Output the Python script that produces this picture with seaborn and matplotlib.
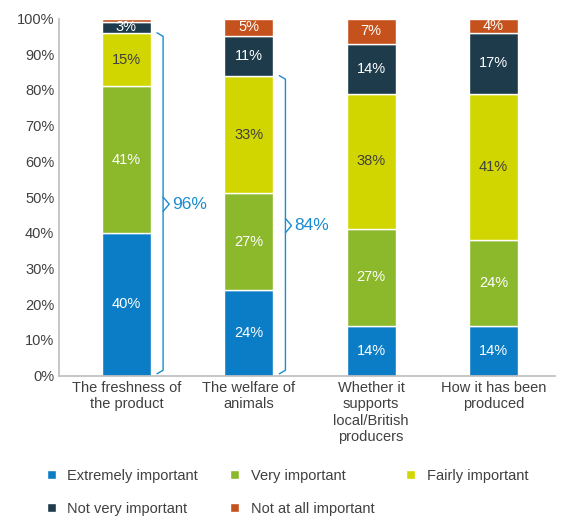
import matplotlib
matplotlib.use("Agg")
import matplotlib.pyplot as plt
import seaborn as sns
import pandas as pd
import numpy as np

categories = ["The freshness of\nthe product", "The welfare of\nanimals", "Whether it\nsupports\nlocal/British\nproducers", "How it has been\nproduced"]
series = ["Extremely important", "Very important", "Fairly important", "Not very important", "Not at all important"]
extremely = [40, 24, 14, 14]
very = [41, 27, 27, 24]
fairly = [15, 33, 38, 41]
notvery = [3, 11, 14, 17]
notatall = [1, 5, 7, 4]
labels_shown = [[True]*4, [True]*4, [True]*4, [True]*4, [False, True, True, True]]
brackets = [96, 84]
colors = ["#0b7cc6", "#8cb82b", "#d2d600", "#1d3b4a", "#c5521c"]
txtcol = ["white", "white", "#404040", "white", "white"]

sns.set_theme(style="white")
plt.rcParams['font.family'] = ['Liberation Sans', 'DejaVu Sans']
fig = plt.figure(figsize=(5.63, 5.29), dpi=100)
ax = fig.add_axes([0.105, 0.29, 0.88, 0.675])

vals = [extremely, very, fairly, notvery, notatall]
x = np.arange(len(categories))
bottom = np.zeros(len(categories))
handles = []
for i, (s, v) in enumerate(zip(series, vals)):
    h = ax.bar(x, v, bottom=bottom, width=0.4, color=colors[i], label=s)
    handles.append(h)
    for j in range(len(categories)):
        if labels_shown[i][j]:
            ax.text(x[j], bottom[j] + v[j]/2, f"{v[j]}%", ha="center", va="center",
                    color=txtcol[i], fontsize=10.5)
    bottom += np.array(v)

for j, b in enumerate(brackets):
    xb = x[j] + 0.25
    ax.plot([xb, xb+0.05, xb+0.05, xb], [0.5, 1.5, b-1, b], color="#1a8ccf", lw=1, clip_on=False)
    ax.plot([xb+0.05, xb+0.1, xb+0.05], [b/2-2, b/2, b/2+2], color="#1a8ccf", lw=1)
    ax.text(xb+0.12, b/2, f"{b}%", color="#1a8ccf", fontsize=12.5, va="center", ha="left")

ax.set_xlim(-0.55, 3.5)
ax.set_ylim(0, 100)
ax.set_yticks(range(0, 101, 10))
ax.set_yticklabels([f"{t}%" for t in range(0, 101, 10)], fontsize=10.5, color="#404040")
ax.set_xticks(x)
ax.set_xticklabels(categories, fontsize=10.5, color="#404040", va="top")
ax.tick_params(axis="x", length=0, pad=4)
ax.tick_params(axis="y", length=0)
for sp in ["top", "right"]:
    ax.spines[sp].set_visible(False)
ax.spines["left"].set_color("#bfbfbf")
ax.spines["bottom"].set_color("#bfbfbf")

order = [0, 3, 1, 4, 2]
fig.legend([handles[k] for k in order], [series[k] for k in order],
           loc="lower left", bbox_to_anchor=(0.06, 0.0), ncol=3, frameon=False,
           fontsize=10.5, handlelength=0.6, handleheight=0.6, columnspacing=2.2,
           labelspacing=1.3, labelcolor="#404040")
fig.savefig("out.png", dpi=100)
